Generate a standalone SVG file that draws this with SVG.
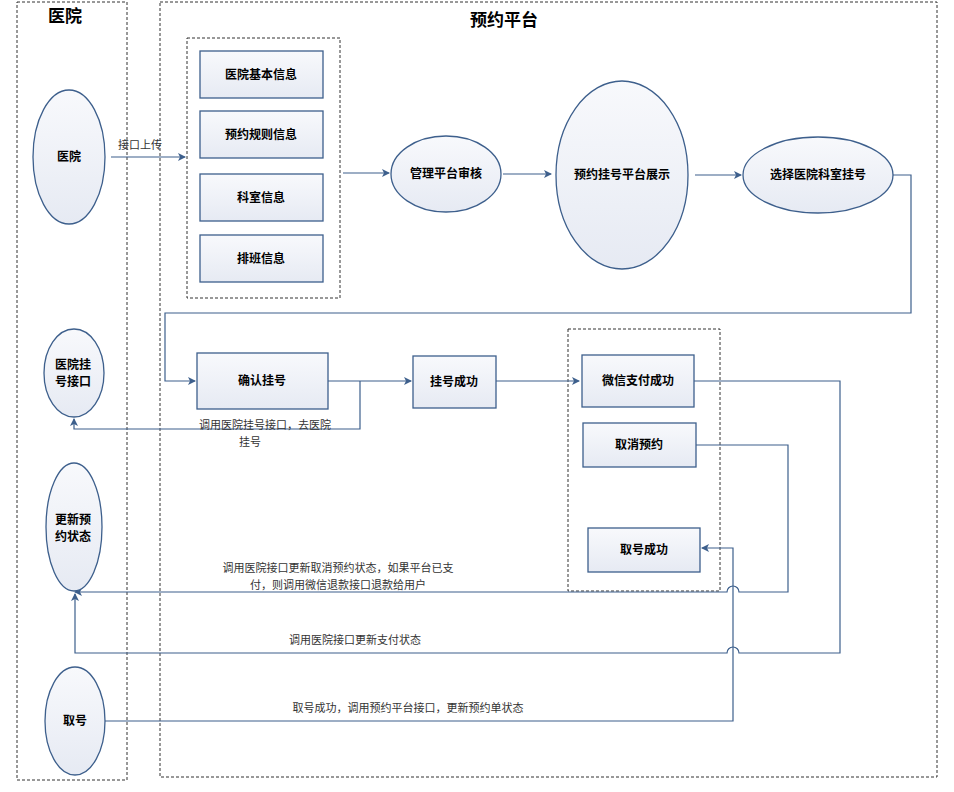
<svg xmlns="http://www.w3.org/2000/svg" width="954" height="792" viewBox="0 0 954 792">
<style>
text{font-family:"Liberation Sans","Noto Sans CJK SC",sans-serif;text-anchor:middle}
.n{fill:url(#g);stroke:#3d5f8c;stroke-width:1.3}
.t{font-size:12px;font-weight:bold;fill:#000}
.l{font-size:11px;fill:#333}
.d{fill:none;stroke:#333;stroke-dasharray:3,2}
.c{fill:none;stroke:#3d5f8c;stroke-width:1.2}
</style>
<defs>
<linearGradient id="g" x1="0" y1="0" x2="0" y2="1"><stop offset="0" stop-color="#f8f9fc"/><stop offset="1" stop-color="#e6eaf3"/></linearGradient>
<marker id="a" markerWidth="8" markerHeight="8" refX="7" refY="4" orient="auto" markerUnits="userSpaceOnUse"><path d="M0,0L8,4L0,8L2,4z" fill="#3d5f8c"/></marker>
</defs>
<rect width="954" height="792" fill="#fff"/>
<g id="lanes">
<rect class="d" x="17" y="2" width="110" height="778"/>
<rect class="d" x="160" y="2" width="777" height="775"/>
<rect class="d" x="187" y="38" width="153" height="260"/>
<rect class="d" x="568" y="329" width="152" height="262"/>
<text x="65" y="22" style="font-size:17px;font-weight:bold">医院</text>
<text x="504" y="26" style="font-size:17px;font-weight:bold">预约平台</text>
</g>
<g id="connectors">
<path class="c" d="M111,157H185" marker-end="url(#a)"/>
<path class="c" d="M343,173H389" marker-end="url(#a)"/>
<path class="c" d="M503,174H551" marker-end="url(#a)"/>
<path class="c" d="M695,175H741" marker-end="url(#a)"/>
<path class="c" d="M893,175H911V313H165V381H195" marker-end="url(#a)"/>
<path class="c" d="M328,381H411" marker-end="url(#a)"/>
<path class="c" d="M360,381V429H74V419" marker-end="url(#a)"/>
<path class="c" d="M496,381H579" marker-end="url(#a)"/>
<path class="c" d="M696,445H788V592H739A6,6 0 0 0 727,592H75" marker-end="url(#a)"/>
<path class="c" d="M694,381H840V653H739A6,6 0 0 0 727,653H75V594" marker-end="url(#a)"/>
<path class="c" d="M105,721H733V548H702" marker-end="url(#a)"/>
<text class="l" x="140" y="149">接口上传</text>
<text class="l" x="265" y="429">调用医院挂号接口，去医院</text>
<text class="l" x="250" y="446">挂号</text>
<text class="l" x="338" y="572">调用医院接口更新取消预约状态，如果平台已支</text>
<text class="l" x="338" y="589">付，则调用微信退款接口退款给用户</text>
<text class="l" x="355" y="644">调用医院接口更新支付状态</text>
<text class="l" x="408" y="712">取号成功，调用预约平台接口，更新预约单状态</text>
</g>
<g id="n1"><ellipse class="n" cx="69" cy="157" rx="36" ry="67"/><text class="t" x="69" y="161">医院</text></g>
<g id="n2"><ellipse class="n" cx="74" cy="373" rx="30" ry="44"/><text class="t" x="73" y="369">医院挂</text><text class="t" x="73" y="386">号接口</text></g>
<g id="n3"><ellipse class="n" cx="74" cy="527" rx="28" ry="64"/><text class="t" x="73" y="524">更新预</text><text class="t" x="73" y="541">约状态</text></g>
<g id="n4"><ellipse class="n" cx="75" cy="721" rx="30" ry="54"/><text class="t" x="75" y="725">取号</text></g>
<g id="b1"><rect class="n" x="200" y="51" width="123" height="47"/><text class="t" x="261" y="79">医院基本信息</text></g>
<g id="b2"><rect class="n" x="200" y="111" width="123" height="47"/><text class="t" x="261" y="139">预约规则信息</text></g>
<g id="b3"><rect class="n" x="200" y="174" width="123" height="47"/><text class="t" x="261" y="202">科室信息</text></g>
<g id="b4"><rect class="n" x="200" y="235" width="123" height="47"/><text class="t" x="261" y="263">排班信息</text></g>
<g id="e1"><ellipse class="n" cx="446" cy="174" rx="55" ry="38"/><text class="t" x="446" y="178">管理平台审核</text></g>
<g id="e2"><ellipse class="n" cx="622" cy="175" rx="66" ry="94"/><text class="t" x="622" y="179">预约挂号平台展示</text></g>
<g id="e3"><ellipse class="n" cx="818" cy="175" rx="75" ry="38"/><text class="t" x="818" y="179">选择医院科室挂号</text></g>
<g id="b5"><rect class="n" x="197" y="353" width="131" height="56"/><text class="t" x="262" y="385">确认挂号</text></g>
<g id="b6"><rect class="n" x="413" y="356" width="83" height="52"/><text class="t" x="454" y="386">挂号成功</text></g>
<g id="b7"><rect class="n" x="582" y="355" width="112" height="52"/><text class="t" x="638" y="385">微信支付成功</text></g>
<g id="b8"><rect class="n" x="583" y="423" width="113" height="44"/><text class="t" x="639" y="449">取消预约</text></g>
<g id="b9"><rect class="n" x="588" y="528" width="112" height="44"/><text class="t" x="644" y="554">取号成功</text></g>
</svg>
